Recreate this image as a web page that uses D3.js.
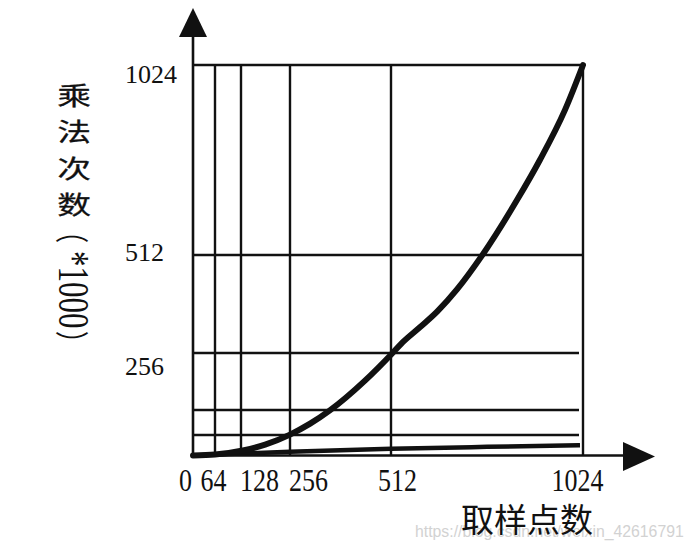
<!DOCTYPE html>
<html><head><meta charset="utf-8">
<script src="https://cdn.jsdelivr.net/npm/d3@7"></script>
<style>body{margin:0;background:#fff} svg{display:block}</style>
</head><body>
<svg id="c" width="693" height="550"></svg>
<script>
// ---- data ----
const xTicks = [0, 64, 128, 256, 512, 1024];
const yTicks = [256, 512, 1024];
const xGrid = [64, 128, 256, 512, 1024];
const yGrid = [64, 128, 256, 512, 1024];
const yAxisTitleCJK = ["乘", "法", "次", "数"];
const yAxisTitleUnit = ["（", "*1000", "）"];
const xAxisTitle = "取样点数";
const watermark = "https://blog.csdn.net/weixin_42616791";
// thick upper curve (direct computation)
const curveAx = [0, 64, 133, 191, 256, 307, 357, 446, 515, 539, 589, 635, 688, 755, 848, 909, 976, 1024];
const curveAy = [0, 3, 16, 34, 65, 93, 127, 194, 255, 280, 323, 364, 422, 511, 660, 768, 903, 1024];
// lower curve (fast algorithm)
const curveBx = [0, 128, 256, 512, 768, 1016];
const curveBy = [0, 6, 12, 21, 27, 32];

// ---- layout ----
const svg = d3.select("#c");
const ink = "#111";
const serif = "'Liberation Serif','Times New Roman',serif";
const cjk = "'Noto Sans CJK SC','Noto Sans CJK JP',sans-serif";

const x = d3.scaleLinear().domain(xTicks).range([193, 215, 241, 290, 391, 583]);
const y = d3.scaleLinear().domain([0, 64, 128, 256, 512, 1024]).range([455.5, 435, 410, 353, 255, 65]);

// watermark (under everything)
svg.append("text").attr("x", 415).attr("y", 537)
  .attr("font-family", "'Liberation Sans',Arial,sans-serif").attr("font-size", 15.8)
  .attr("fill", "#d2d2d2").text(watermark);

// grid
const g = svg.append("g");
g.selectAll("line.v").data(xGrid).join("line").attr("class", "v")
  .attr("x1", d => x(d)).attr("x2", d => x(d))
  .attr("y1", y(0)).attr("y2", y(1024))
  .attr("stroke", ink).attr("stroke-width", 2.4);
g.selectAll("line.h").data(yGrid).join("line").attr("class", "h")
  .attr("x1", x(0)).attr("x2", d => d >= 512 ? x(1024) : x(1024) - 4)
  .attr("y1", d => y(d)).attr("y2", d => y(d))
  .attr("stroke", ink).attr("stroke-width", 2.4);

// curves
const lineGen = d3.line().x(d => x(d[0])).y(d => y(d[1])).curve(d3.curveMonotoneX);
svg.append("path").datum(curveBx.map((v, i) => [v, curveBy[i]]))
  .attr("d", lineGen).attr("fill", "none").attr("stroke", ink).attr("stroke-width", 4.5);
svg.append("path").datum(curveAx.map((v, i) => [v, curveAy[i]]))
  .attr("d", lineGen).attr("fill", "none").attr("stroke", ink)
  .attr("stroke-width", 6).attr("stroke-linecap", "round").attr("stroke-linejoin", "round");

// axes lines + arrows
svg.append("line").attr("x1", x(0)).attr("x2", x(0)).attr("y1", y(0) + 1).attr("y2", 36)
  .attr("stroke", ink).attr("stroke-width", 2.6);
svg.append("line").attr("x1", x(0) - 1).attr("x2", 624).attr("y1", y(0)).attr("y2", y(0))
  .attr("stroke", ink).attr("stroke-width", 2.6);
svg.append("path").attr("d", `M${x(0)},8 L${x(0) - 14},37 L${x(0) + 14},37 Z`).attr("fill", ink);
svg.append("path").attr("d", `M655,${y(0) + 1} L623,${y(0) - 13.5} L623,${y(0) + 15.5} Z`).attr("fill", ink);

// x tick labels
const xNudge = {0: -8, 64: -2, 128: 18, 256: 18, 512: 6, 1024: -6};
const gx = svg.append("g").attr("transform", `translate(0,${y(0)})`)
  .call(d3.axisBottom(x).tickValues(xTicks).tickSize(0).tickFormat(d3.format("d")));
gx.select(".domain").remove();
gx.selectAll("text").attr("y", null).attr("dy", null)
  .attr("transform", d => `translate(${xNudge[d]},35) scale(1,1.18)`)
  .attr("font-family", serif).attr("font-size", 26).attr("fill", ink);

// y tick labels
const yNudge = {256: 12, 512: -4, 1024: 8};
const gy = svg.append("g").attr("transform", `translate(${x(0)},0)`)
  .call(d3.axisLeft(y).tickValues(yTicks).tickSize(0).tickFormat(d3.format("d")));
gy.select(".domain").remove();
gy.selectAll("text").attr("x", 125 - x(0)).attr("y", d => yNudge[d]).attr("dy", "0.35em")
  .attr("text-anchor", "start")
  .attr("font-family", serif).attr("font-size", 26).attr("fill", ink);

// y axis title (vertical)
const tx = 74;
svg.append("g").selectAll("text").data(yAxisTitleCJK).join("text")
  .attr("transform", (d, i) => `translate(${tx},${94 + i * 36.5}) scale(1.35,1)`)
  .attr("text-anchor", "middle").attr("dominant-baseline", "central")
  .attr("font-family", cjk).attr("font-size", 25).attr("fill", ink)
  .attr("stroke", ink).attr("stroke-width", 0.3).text(d => d);
const unitStarts = [219, 251, 331];
const unitFonts = [cjk, serif, cjk];
const unitSizes = [24, 31, 24];
yAxisTitleUnit.forEach((t, i) => {
  svg.append("text")
    .attr("transform", `translate(${tx},${unitStarts[i]}) rotate(90) scale(1,1.4)`)
    .attr("dominant-baseline", "central").attr("fill", ink)
    .attr("font-family", unitFonts[i]).attr("font-size", unitSizes[i]).text(t);
});

// x axis title
svg.append("text").attr("x", 527).attr("y", 518)
  .attr("text-anchor", "middle").attr("dominant-baseline", "central")
  .attr("font-family", cjk).attr("font-size", 33).attr("fill", ink).text(xAxisTitle);
</script>
</body></html>
